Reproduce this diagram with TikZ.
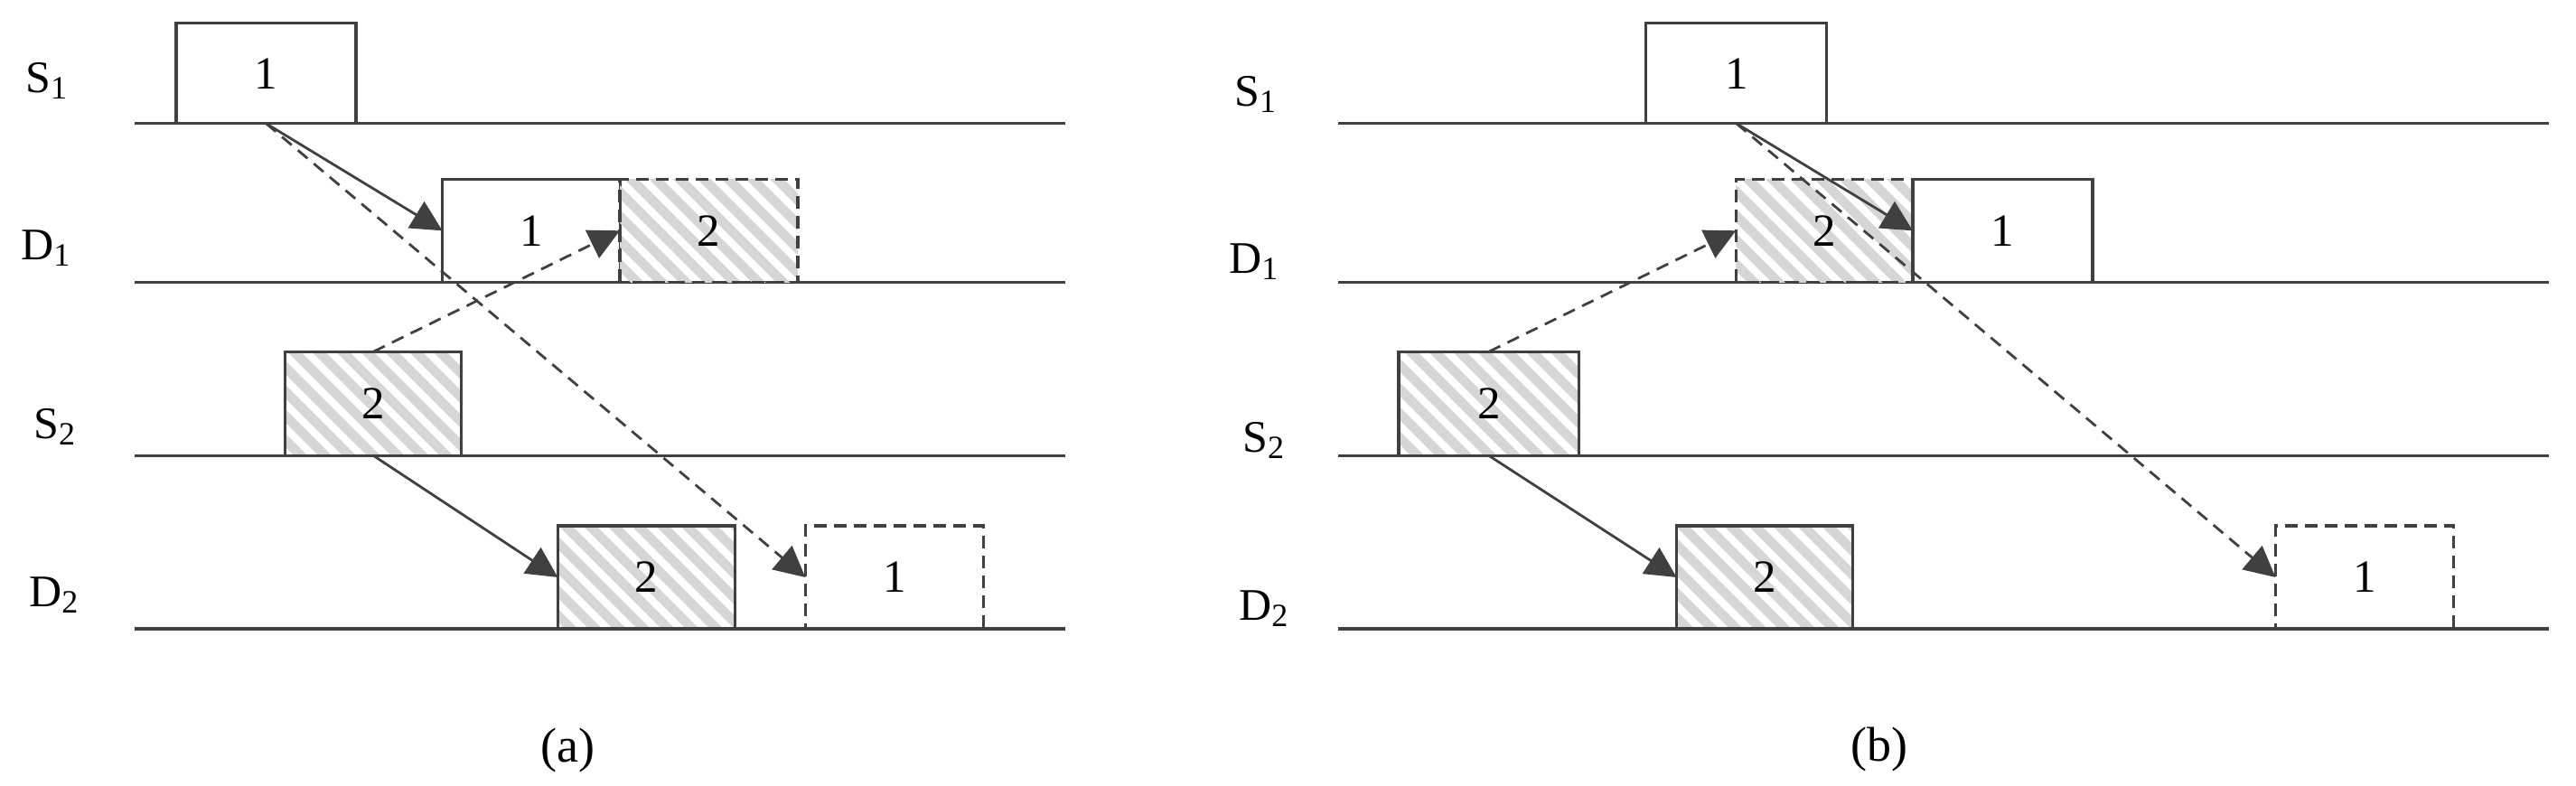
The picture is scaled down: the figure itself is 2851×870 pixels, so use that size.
\documentclass[tikz,border=0pt]{standalone}
\usepackage{fontspec}
\setmainfont{Liberation Serif}
\usetikzlibrary{arrows.meta,patterns.meta}
\definecolor{ln}{HTML}{404040}
\definecolor{hatch}{HTML}{D6D6D6}
\newcommand\lanesub[1]{\raisebox{-7pt}{\fontsize{36}{36}\selectfont #1}}
\tikzset{
  lane/.style={draw=ln, line width=3.3pt},
  slot/.style={draw=ln, line width=3.3pt, minimum width=197pt, minimum height=114pt,
    anchor=south west, inner sep=0pt, outer sep=0pt, font=\fontsize{51}{51}\selectfont, text=black},
  hatched/.style={pattern={Lines[angle=-45,distance=19pt,line width=10.5pt]}, pattern color=hatch},
  nodraw/.style={draw=none},
  dashframe/.style={draw=ln, line width=3.3pt, dash pattern=on 14pt off 8pt},
  dashbox/.style={dash pattern=on 14pt off 8pt},
  msg/.style={draw=ln, line width=2.8pt, -{Triangle[length=34pt,width=34pt]}},
  msgd/.style={msg, dash pattern=on 14pt off 9pt},
  lbl/.style={anchor=base west, inner sep=0pt, font=\fontsize{50}{50}\selectfont},
  captext/.style={anchor=base, inner sep=0pt, font=\fontsize{54}{54}\selectfont}
}
\begin{document}
\begin{tikzpicture}[x=1pt, y=-1pt]
\useasboundingbox (0,0) rectangle (2851,870);
% ---------- lanes ----------
\foreach \yy in {136.7,312.3,504.3,696}{
  \draw[lane] (149,\yy) -- (1179,\yy);
  \draw[lane] (1481,\yy) -- (2821,\yy);
}
% ---------- labels (a) ----------
\node[lbl] (la1) at (28,102) {S\lanesub{1}};
\node[lbl] (la2) at (23,287) {D\lanesub{1}};
\node[lbl] (la3) at (37,485) {S\lanesub{2}};
\node[lbl] (la4) at (32,671) {D\lanesub{2}};
% ---------- labels (b) ----------
\node[lbl] (lb1) at (1366,117) {S\lanesub{1}};
\node[lbl] (lb2) at (1360,302) {D\lanesub{1}};
\node[lbl] (lb3) at (1375,500) {S\lanesub{2}};
\node[lbl] (lb4) at (1371,686) {D\lanesub{2}};
% ---------- boxes (a) ----------
\node[slot, minimum width=199pt, minimum height=111pt] (S1a) at (195,136.7) {1};
\node[slot] (D1a1) at (489.6,312.3) {1};
\node[slot, hatched, nodraw] (D1a2) at (686,312.3) {2};
\draw[dashframe] (D1a2.south west) rectangle (D1a2.north east);
\node[slot, hatched, minimum width=195pt, minimum height=115pt] (S2a) at (315.7,504.3) {2};
\node[slot, hatched, minimum width=196pt] (D2a2) at (617.4,696) {2};
\node[slot, dashbox] (D2a1) at (891.4,696) {1};
% ---------- boxes (b) ----------
\node[slot, minimum width=200pt, minimum height=111pt] (S1b) at (1821.8,136.7) {1};
\node[slot, hatched, nodraw, minimum width=196pt] (D1b2) at (1921.3,312.3) {2};
\draw[dashframe] (D1b2.south west) rectangle (D1b2.north east);
\node[slot, minimum width=199pt] (D1b1) at (2117,312.3) {1};
\node[slot, hatched, minimum width=199.5pt, minimum height=115pt] (S2b) at (1548,504.3) {2};
\node[slot, hatched, minimum width=195pt] (D2b2) at (1855.6,696) {2};
\node[slot, dashbox] (D2b1) at (2518.5,696) {1};
% ---------- messages (a) ----------
\draw[msg]  (S1a.south) -- (D1a1.west);
\draw[msgd] (S1a.south) -- (D2a1.west);
\draw[msgd] (S2a.north) -- (D1a2.west);
\draw[msg]  (S2a.south) -- (D2a2.west);
% ---------- messages (b) ----------
\draw[msg]  (S1b.south) -- (D1b1.west);
\draw[msgd] (S1b.south) -- (D2b1.west);
\draw[msgd] (S2b.north) -- (D1b2.west);
\draw[msg]  (S2b.south) -- (D2b2.west);
% ---------- captions ----------
\node[captext] (capa) at (628.5,843) {(a)};
\node[captext] (capb) at (2080,842) {(b)};
\end{tikzpicture}
\end{document}
